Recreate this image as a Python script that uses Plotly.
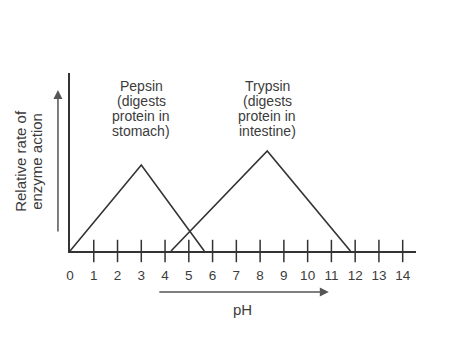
import plotly.graph_objects as go

# ---- data ----
ph_ticks = list(range(0, 15))
tick_marks = list(range(1, 15))
pepsin_ph = [0.0, 3.0, 5.65]
pepsin_rate = [0.0, 4.83, 0.0]
trypsin_ph = [4.25, 8.3, 11.8]
trypsin_rate = [0.0, 5.62, 0.0]
pepsin_label = ["Pepsin", "(digests", "protein in", "stomach)"]
trypsin_label = ["Trypsin", "(digests", "protein in", "intestine)"]
y_label = ["Relative rate of", "enzyme action"]
x_label = "pH"

LINE = "#333333"
TEXT = "#3c3c3c"
FONT = "Liberation Sans, Arial, sans-serif"

fig = go.Figure()
fig.add_trace(go.Scatter(x=pepsin_ph, y=pepsin_rate, mode="lines",
                         line=dict(color=LINE, width=1.6), cliponaxis=False,
                         hoverinfo="skip"))
fig.add_trace(go.Scatter(x=trypsin_ph, y=trypsin_rate, mode="lines",
                         line=dict(color=LINE, width=1.6), cliponaxis=False,
                         hoverinfo="skip"))
# crossing tick marks on the pH axis
fig.add_trace(go.Scatter(x=tick_marks, y=[0] * len(tick_marks), mode="markers",
                         marker=dict(symbol="line-ns", size=16,
                                     line=dict(color=LINE, width=1.5)),
                         cliponaxis=False, hoverinfo="skip"))

annotations = []
for label, xpos in ((pepsin_label, pepsin_ph[1]), (trypsin_label, trypsin_ph[1])):
    for i, line in enumerate(label):
        annotations.append(dict(x=xpos, xref="x", y=0.927, yref="paper",
                                yshift=-15 * i, text=line, showarrow=False,
                                xanchor="center", yanchor="middle",
                                font=dict(size=14, color=TEXT, family=FONT)))
for i, line in enumerate(y_label):
    annotations.append(dict(x=[-0.142, -0.0957][i], xref="paper", y=0.506, yref="paper",
                            text=line, textangle=-90, showarrow=False,
                            xanchor="center", yanchor="middle",
                            font=dict(size=15, color=TEXT, family=FONT)))
annotations.append(dict(x=0.4986, xref="paper", y=-0.331, yref="paper", text=x_label,
                        showarrow=False, xanchor="center", yanchor="middle",
                        font=dict(size=15, color=TEXT, family=FONT)))
# arrows
annotations.append(dict(x=-0.0348, xref="paper", y=0.904, yref="paper", text="",
                        showarrow=True, ax=0, ay=143, axref="pixel", ayref="pixel",
                        arrowhead=2, arrowsize=1.2, arrowwidth=1.5, arrowcolor="#555555"))
annotations.append(dict(x=0.748, xref="paper", y=-0.230, yref="paper", text="",
                        showarrow=True, ax=-171, ay=0, axref="pixel", ayref="pixel",
                        arrowhead=2, arrowsize=1.2, arrowwidth=1.5, arrowcolor="#555555"))

fig.update_layout(
    width=474, height=358,
    margin=dict(l=70, r=58, t=73, b=107),
    paper_bgcolor="white", plot_bgcolor="white",
    showlegend=False,
    annotations=annotations,
    xaxis=dict(range=[0, 14.56], tickvals=ph_ticks, ticktext=[str(v) for v in ph_ticks],
               showgrid=False, zeroline=False, showline=True, linecolor=LINE, linewidth=1.6,
               ticks="outside", ticklen=11, tickcolor="rgba(0,0,0,0)",
               tickfont=dict(size=13.5, color=TEXT, family=FONT), fixedrange=True),
    yaxis=dict(range=[0, 10], showgrid=False, zeroline=False, showline=True,
               linecolor=LINE, linewidth=1.6, showticklabels=False, ticks="",
               fixedrange=True),
)

fig.write_html("out.html", config={"displayModeBar": False},
               post_script="document.body.style.margin='0';document.body.style.padding='0';")
